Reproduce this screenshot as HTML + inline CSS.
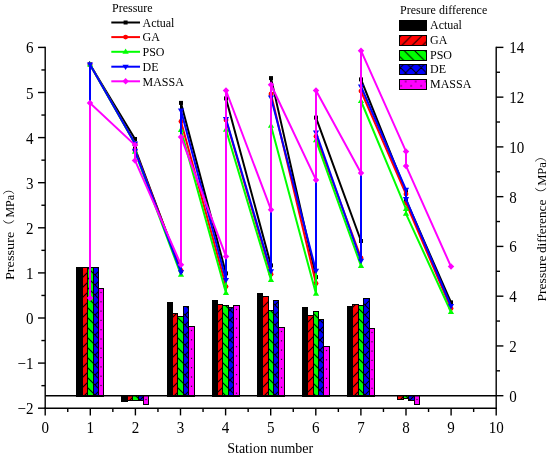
<!DOCTYPE html>
<html><head><meta charset="utf-8"><title>Pressure chart</title>
<style>html,body{margin:0;padding:0;background:#fff;}body{width:550px;height:458px;overflow:hidden;}svg{display:block;}text{font-family:"Liberation Serif", "Times New Roman", serif;fill:#000;}.cjk{font-family:"Liberation Serif", "Noto Serif CJK SC", serif;}</style></head><body>
<svg width="550" height="458" viewBox="0 0 550 458">
<defs>
<pattern id="bGA" patternUnits="userSpaceOnUse" width="10" height="10"><rect x="-1" y="-1" width="12" height="12" fill="#ff0000"/><path d="M0,10 L10,0 M-2.5,2.5 L2.5,-2.5 M7.5,12.5 L12.5,7.5" stroke="#000" stroke-width="1.1" fill="none"/></pattern>
<pattern id="bPSO" patternUnits="userSpaceOnUse" width="10" height="10"><rect x="-1" y="-1" width="12" height="12" fill="#00ff00"/><path d="M0,0 L10,10 M-2.5,7.5 L2.5,12.5 M7.5,-2.5 L12.5,2.5" stroke="#000" stroke-width="1.1" fill="none"/></pattern>
<pattern id="bDE" patternUnits="userSpaceOnUse" width="10" height="10"><rect x="-1" y="-1" width="12" height="12" fill="#0000ff"/><path d="M0,10 L10,0 M-2.5,2.5 L2.5,-2.5 M7.5,12.5 L12.5,7.5 M0,0 L10,10 M-2.5,7.5 L2.5,12.5 M7.5,-2.5 L12.5,2.5" stroke="#000" stroke-width="1.1" fill="none"/></pattern>
<pattern id="lGA" patternUnits="userSpaceOnUse" width="10.4" height="10.4"><rect x="-1" y="-1" width="12.4" height="12.4" fill="#ff0000"/><path d="M0,10.4 L10.4,0 M-2.6,2.6 L2.6,-2.6 M7.8,13 L13,7.8" stroke="#000" stroke-width="1.0" fill="none"/></pattern>
<pattern id="lPSO" patternUnits="userSpaceOnUse" width="10.4" height="10.4"><rect x="-1" y="-1" width="12.4" height="12.4" fill="#00ff00"/><path d="M0,0 L10.4,10.4 M-2.6,7.8 L2.6,13 M7.8,-2.6 L13,2.6" stroke="#000" stroke-width="1.0" fill="none"/></pattern>
<pattern id="lDE" patternUnits="userSpaceOnUse" width="10.4" height="10.4"><rect x="-1" y="-1" width="12.4" height="12.4" fill="#0000ff"/><path d="M0,10.4 L10.4,0 M-2.6,2.6 L2.6,-2.6 M7.8,13 L13,7.8 M0,0 L10.4,10.4 M-2.6,7.8 L2.6,13 M7.8,-2.6 L13,2.6" stroke="#000" stroke-width="1.0" fill="none"/></pattern>
<pattern id="lMA" patternUnits="userSpaceOnUse" x="400.5" y="80.5" width="10" height="9"><rect x="-1" y="-1" width="12" height="11" fill="#ff00ff"/><rect x="4.6" y="0.4" width="1.2" height="1.2" fill="#111"/><rect x="0" y="4.8" width="1.2" height="1.2" fill="#111"/></pattern>
</defs>
<rect x="76.5" y="267.5" width="6" height="129" fill="#000000" stroke="#000" stroke-width="1"/>
<rect x="82.5" y="267.5" width="5" height="129" fill="url(#bGA)" stroke="#000" stroke-width="1"/>
<rect x="87.5" y="267.5" width="6" height="129" fill="url(#bPSO)" stroke="#000" stroke-width="1"/>
<rect x="93.5" y="267.5" width="5" height="129" fill="url(#bDE)" stroke="#000" stroke-width="1"/>
<rect x="98.5" y="288.5" width="5" height="108" fill="#ff00ff" stroke="#000" stroke-width="1"/>
<rect x="100.4" y="291.9" width="1.2" height="1.2" fill="#222"/>
<rect x="100.4" y="301.2" width="1.2" height="1.2" fill="#222"/>
<rect x="100.4" y="310.5" width="1.2" height="1.2" fill="#222"/>
<rect x="100.4" y="319.8" width="1.2" height="1.2" fill="#222"/>
<rect x="100.4" y="329.1" width="1.2" height="1.2" fill="#222"/>
<rect x="100.4" y="338.4" width="1.2" height="1.2" fill="#222"/>
<rect x="100.4" y="347.7" width="1.2" height="1.2" fill="#222"/>
<rect x="100.4" y="357" width="1.2" height="1.2" fill="#222"/>
<rect x="100.4" y="366.3" width="1.2" height="1.2" fill="#222"/>
<rect x="100.4" y="375.6" width="1.2" height="1.2" fill="#222"/>
<rect x="100.4" y="384.9" width="1.2" height="1.2" fill="#222"/>
<rect x="121.5" y="395.5" width="6" height="6" fill="#000000" stroke="#000" stroke-width="1"/>
<rect x="127.5" y="395.5" width="5" height="5" fill="url(#bGA)" stroke="#000" stroke-width="1"/>
<rect x="132.5" y="395.5" width="6" height="5" fill="url(#bPSO)" stroke="#000" stroke-width="1"/>
<rect x="138.5" y="395.5" width="5" height="5" fill="url(#bDE)" stroke="#000" stroke-width="1"/>
<rect x="143.5" y="395.5" width="5" height="9" fill="#ff00ff" stroke="#000" stroke-width="1"/>
<rect x="145.4" y="398.9" width="1.2" height="1.2" fill="#222"/>
<rect x="167.5" y="302.5" width="5" height="94" fill="#000000" stroke="#000" stroke-width="1"/>
<rect x="172.5" y="313.5" width="5" height="83" fill="url(#bGA)" stroke="#000" stroke-width="1"/>
<rect x="177.5" y="316.5" width="6" height="80" fill="url(#bPSO)" stroke="#000" stroke-width="1"/>
<rect x="183.5" y="306.5" width="5" height="90" fill="url(#bDE)" stroke="#000" stroke-width="1"/>
<rect x="188.5" y="326.5" width="6" height="70" fill="#ff00ff" stroke="#000" stroke-width="1"/>
<rect x="190.9" y="329.9" width="1.2" height="1.2" fill="#222"/>
<rect x="190.9" y="339.2" width="1.2" height="1.2" fill="#222"/>
<rect x="190.9" y="348.5" width="1.2" height="1.2" fill="#222"/>
<rect x="190.9" y="357.8" width="1.2" height="1.2" fill="#222"/>
<rect x="190.9" y="367.1" width="1.2" height="1.2" fill="#222"/>
<rect x="190.9" y="376.4" width="1.2" height="1.2" fill="#222"/>
<rect x="190.9" y="385.7" width="1.2" height="1.2" fill="#222"/>
<rect x="212.5" y="300.5" width="5" height="96" fill="#000000" stroke="#000" stroke-width="1"/>
<rect x="217.5" y="304.5" width="5" height="92" fill="url(#bGA)" stroke="#000" stroke-width="1"/>
<rect x="222.5" y="305.5" width="6" height="91" fill="url(#bPSO)" stroke="#000" stroke-width="1"/>
<rect x="228.5" y="307.5" width="5" height="89" fill="url(#bDE)" stroke="#000" stroke-width="1"/>
<rect x="233.5" y="305.5" width="6" height="91" fill="#ff00ff" stroke="#000" stroke-width="1"/>
<rect x="235.9" y="308.9" width="1.2" height="1.2" fill="#222"/>
<rect x="235.9" y="318.2" width="1.2" height="1.2" fill="#222"/>
<rect x="235.9" y="327.5" width="1.2" height="1.2" fill="#222"/>
<rect x="235.9" y="336.8" width="1.2" height="1.2" fill="#222"/>
<rect x="235.9" y="346.1" width="1.2" height="1.2" fill="#222"/>
<rect x="235.9" y="355.4" width="1.2" height="1.2" fill="#222"/>
<rect x="235.9" y="364.7" width="1.2" height="1.2" fill="#222"/>
<rect x="235.9" y="374" width="1.2" height="1.2" fill="#222"/>
<rect x="235.9" y="383.3" width="1.2" height="1.2" fill="#222"/>
<rect x="235.9" y="392.6" width="1.2" height="1.2" fill="#222"/>
<rect x="257.5" y="293.5" width="5" height="103" fill="#000000" stroke="#000" stroke-width="1"/>
<rect x="262.5" y="296.5" width="6" height="100" fill="url(#bGA)" stroke="#000" stroke-width="1"/>
<rect x="268.5" y="310.5" width="5" height="86" fill="url(#bPSO)" stroke="#000" stroke-width="1"/>
<rect x="273.5" y="300.5" width="5" height="96" fill="url(#bDE)" stroke="#000" stroke-width="1"/>
<rect x="278.5" y="327.5" width="6" height="69" fill="#ff00ff" stroke="#000" stroke-width="1"/>
<rect x="280.9" y="330.9" width="1.2" height="1.2" fill="#222"/>
<rect x="280.9" y="340.2" width="1.2" height="1.2" fill="#222"/>
<rect x="280.9" y="349.5" width="1.2" height="1.2" fill="#222"/>
<rect x="280.9" y="358.8" width="1.2" height="1.2" fill="#222"/>
<rect x="280.9" y="368.1" width="1.2" height="1.2" fill="#222"/>
<rect x="280.9" y="377.4" width="1.2" height="1.2" fill="#222"/>
<rect x="280.9" y="386.7" width="1.2" height="1.2" fill="#222"/>
<rect x="302.5" y="307.5" width="5" height="89" fill="#000000" stroke="#000" stroke-width="1"/>
<rect x="307.5" y="315.5" width="6" height="81" fill="url(#bGA)" stroke="#000" stroke-width="1"/>
<rect x="313.5" y="311.5" width="5" height="85" fill="url(#bPSO)" stroke="#000" stroke-width="1"/>
<rect x="318.5" y="319.5" width="5" height="77" fill="url(#bDE)" stroke="#000" stroke-width="1"/>
<rect x="323.5" y="346.5" width="6" height="50" fill="#ff00ff" stroke="#000" stroke-width="1"/>
<rect x="325.9" y="349.9" width="1.2" height="1.2" fill="#222"/>
<rect x="325.9" y="359.2" width="1.2" height="1.2" fill="#222"/>
<rect x="325.9" y="368.5" width="1.2" height="1.2" fill="#222"/>
<rect x="325.9" y="377.8" width="1.2" height="1.2" fill="#222"/>
<rect x="325.9" y="387.1" width="1.2" height="1.2" fill="#222"/>
<rect x="347.5" y="306.5" width="5" height="90" fill="#000000" stroke="#000" stroke-width="1"/>
<rect x="352.5" y="304.5" width="6" height="92" fill="url(#bGA)" stroke="#000" stroke-width="1"/>
<rect x="358.5" y="305.5" width="5" height="91" fill="url(#bPSO)" stroke="#000" stroke-width="1"/>
<rect x="363.5" y="298.5" width="6" height="98" fill="url(#bDE)" stroke="#000" stroke-width="1"/>
<rect x="369.5" y="328.5" width="5" height="68" fill="#ff00ff" stroke="#000" stroke-width="1"/>
<rect x="371.4" y="331.9" width="1.2" height="1.2" fill="#222"/>
<rect x="371.4" y="341.2" width="1.2" height="1.2" fill="#222"/>
<rect x="371.4" y="350.5" width="1.2" height="1.2" fill="#222"/>
<rect x="371.4" y="359.8" width="1.2" height="1.2" fill="#222"/>
<rect x="371.4" y="369.1" width="1.2" height="1.2" fill="#222"/>
<rect x="371.4" y="378.4" width="1.2" height="1.2" fill="#222"/>
<rect x="371.4" y="387.7" width="1.2" height="1.2" fill="#222"/>
<rect x="397.5" y="395.5" width="6" height="4" fill="url(#bGA)" stroke="#000" stroke-width="1"/>
<rect x="403.5" y="395.5" width="5" height="3" fill="url(#bPSO)" stroke="#000" stroke-width="1"/>
<rect x="408.5" y="395.5" width="6" height="5" fill="url(#bDE)" stroke="#000" stroke-width="1"/>
<rect x="414.5" y="395.5" width="5" height="9" fill="#ff00ff" stroke="#000" stroke-width="1"/>
<rect x="416.4" y="398.9" width="1.2" height="1.2" fill="#222"/>
<g stroke="#000" stroke-width="1.4" fill="none">
<line x1="45.2" y1="395.7" x2="496.2" y2="395.7"/>
<line x1="45.2" y1="46.8" x2="45.2" y2="409"/>
<line x1="496.2" y1="46.8" x2="496.2" y2="409"/>
<line x1="44.4" y1="408.2" x2="497" y2="408.2"/>
<line x1="38" y1="408.2" x2="45.2" y2="408.2"/>
<line x1="41.4" y1="385.65" x2="45.2" y2="385.65"/>
<line x1="38" y1="363.1" x2="45.2" y2="363.1"/>
<line x1="41.4" y1="340.55" x2="45.2" y2="340.55"/>
<line x1="38" y1="318" x2="45.2" y2="318"/>
<line x1="41.4" y1="295.45" x2="45.2" y2="295.45"/>
<line x1="38" y1="272.9" x2="45.2" y2="272.9"/>
<line x1="41.4" y1="250.35" x2="45.2" y2="250.35"/>
<line x1="38" y1="227.8" x2="45.2" y2="227.8"/>
<line x1="41.4" y1="205.25" x2="45.2" y2="205.25"/>
<line x1="38" y1="182.7" x2="45.2" y2="182.7"/>
<line x1="41.4" y1="160.15" x2="45.2" y2="160.15"/>
<line x1="38" y1="137.6" x2="45.2" y2="137.6"/>
<line x1="41.4" y1="115.05" x2="45.2" y2="115.05"/>
<line x1="38" y1="92.5" x2="45.2" y2="92.5"/>
<line x1="41.4" y1="69.95" x2="45.2" y2="69.95"/>
<line x1="38" y1="47.4" x2="45.2" y2="47.4"/>
<line x1="496.2" y1="395.7" x2="503.4" y2="395.7"/>
<line x1="496.2" y1="370.82" x2="500" y2="370.82"/>
<line x1="496.2" y1="345.94" x2="503.4" y2="345.94"/>
<line x1="496.2" y1="321.06" x2="500" y2="321.06"/>
<line x1="496.2" y1="296.18" x2="503.4" y2="296.18"/>
<line x1="496.2" y1="271.3" x2="500" y2="271.3"/>
<line x1="496.2" y1="246.42" x2="503.4" y2="246.42"/>
<line x1="496.2" y1="221.54" x2="500" y2="221.54"/>
<line x1="496.2" y1="196.66" x2="503.4" y2="196.66"/>
<line x1="496.2" y1="171.78" x2="500" y2="171.78"/>
<line x1="496.2" y1="146.9" x2="503.4" y2="146.9"/>
<line x1="496.2" y1="122.02" x2="500" y2="122.02"/>
<line x1="496.2" y1="97.14" x2="503.4" y2="97.14"/>
<line x1="496.2" y1="72.26" x2="500" y2="72.26"/>
<line x1="496.2" y1="47.38" x2="503.4" y2="47.38"/>
<line x1="45.2" y1="408.2" x2="45.2" y2="415.4"/>
<line x1="67.75" y1="408.2" x2="67.75" y2="412"/>
<line x1="90.3" y1="408.2" x2="90.3" y2="415.4"/>
<line x1="112.85" y1="408.2" x2="112.85" y2="412"/>
<line x1="135.4" y1="408.2" x2="135.4" y2="415.4"/>
<line x1="157.95" y1="408.2" x2="157.95" y2="412"/>
<line x1="180.5" y1="408.2" x2="180.5" y2="415.4"/>
<line x1="203.05" y1="408.2" x2="203.05" y2="412"/>
<line x1="225.6" y1="408.2" x2="225.6" y2="415.4"/>
<line x1="248.15" y1="408.2" x2="248.15" y2="412"/>
<line x1="270.7" y1="408.2" x2="270.7" y2="415.4"/>
<line x1="293.25" y1="408.2" x2="293.25" y2="412"/>
<line x1="315.8" y1="408.2" x2="315.8" y2="415.4"/>
<line x1="338.35" y1="408.2" x2="338.35" y2="412"/>
<line x1="360.9" y1="408.2" x2="360.9" y2="415.4"/>
<line x1="383.45" y1="408.2" x2="383.45" y2="412"/>
<line x1="406" y1="408.2" x2="406" y2="415.4"/>
<line x1="428.55" y1="408.2" x2="428.55" y2="412"/>
<line x1="451.1" y1="408.2" x2="451.1" y2="415.4"/>
<line x1="473.65" y1="408.2" x2="473.65" y2="412"/>
<line x1="496.2" y1="408.2" x2="496.2" y2="415.4"/>
</g>
<polyline points="90,298 90,64.5 135,139 135,148.4 181,271 181,102.9 226,273.4 226,98.4 271,265.4 271,78.1 316,277.1 316,117.6 361,241 361,79.4 406,192 406,200 451,302.4" fill="none" stroke="#000000" stroke-width="2.0" stroke-linejoin="miter"/>
<rect x="88" y="62.5" width="4" height="4" fill="#000000"/>
<rect x="133" y="137" width="4" height="4" fill="#000000"/>
<rect x="133" y="146.4" width="4" height="4" fill="#000000"/>
<rect x="179" y="269" width="4" height="4" fill="#000000"/>
<rect x="179" y="100.9" width="4" height="4" fill="#000000"/>
<rect x="224" y="271.4" width="4" height="4" fill="#000000"/>
<rect x="224" y="96.4" width="4" height="4" fill="#000000"/>
<rect x="269" y="263.4" width="4" height="4" fill="#000000"/>
<rect x="269" y="76.1" width="4" height="4" fill="#000000"/>
<rect x="314" y="275.1" width="4" height="4" fill="#000000"/>
<rect x="314" y="115.6" width="4" height="4" fill="#000000"/>
<rect x="359" y="239" width="4" height="4" fill="#000000"/>
<rect x="359" y="77.4" width="4" height="4" fill="#000000"/>
<rect x="404" y="190" width="4" height="4" fill="#000000"/>
<rect x="404" y="198" width="4" height="4" fill="#000000"/>
<rect x="449" y="300.4" width="4" height="4" fill="#000000"/>
<polyline points="90,298 90,64.5 135,143.5 135,150.5 181,270.5 181,121.5 226,286.6 226,120 271,274.2 271,94 316,283.5 316,136.4 361,258 361,91.1 406,194 406,203 451,308.4" fill="none" stroke="#ff0000" stroke-width="2.0" stroke-linejoin="miter"/>
<circle cx="90" cy="64.5" r="2.45" fill="#ff0000"/>
<circle cx="135" cy="143.5" r="2.45" fill="#ff0000"/>
<circle cx="135" cy="150.5" r="2.45" fill="#ff0000"/>
<circle cx="181" cy="270.5" r="2.45" fill="#ff0000"/>
<circle cx="181" cy="121.5" r="2.45" fill="#ff0000"/>
<circle cx="226" cy="286.6" r="2.45" fill="#ff0000"/>
<circle cx="226" cy="120" r="2.45" fill="#ff0000"/>
<circle cx="271" cy="274.2" r="2.45" fill="#ff0000"/>
<circle cx="271" cy="94" r="2.45" fill="#ff0000"/>
<circle cx="316" cy="283.5" r="2.45" fill="#ff0000"/>
<circle cx="316" cy="136.4" r="2.45" fill="#ff0000"/>
<circle cx="361" cy="258" r="2.45" fill="#ff0000"/>
<circle cx="361" cy="91.1" r="2.45" fill="#ff0000"/>
<circle cx="406" cy="194" r="2.45" fill="#ff0000"/>
<circle cx="406" cy="203" r="2.45" fill="#ff0000"/>
<circle cx="451" cy="308.4" r="2.45" fill="#ff0000"/>
<polyline points="90,298 90,64.5 135,143.8 135,151.8 181,274.8 181,129.9 226,293.1 226,129.8 271,280 271,125.7 316,293.8 316,140.3 361,265.9 361,101 406,208.9 406,213.8 451,312" fill="none" stroke="#00ff00" stroke-width="2.0" stroke-linejoin="miter"/>
<polygon points="90,61.2 93.14,66.48 86.86,66.48" fill="#00ff00"/>
<polygon points="135,140.5 138.13,145.78 131.87,145.78" fill="#00ff00"/>
<polygon points="135,148.5 138.13,153.78 131.87,153.78" fill="#00ff00"/>
<polygon points="181,271.5 184.13,276.78 177.87,276.78" fill="#00ff00"/>
<polygon points="181,126.6 184.13,131.88 177.87,131.88" fill="#00ff00"/>
<polygon points="226,289.8 229.13,295.08 222.87,295.08" fill="#00ff00"/>
<polygon points="226,126.5 229.13,131.78 222.87,131.78" fill="#00ff00"/>
<polygon points="271,276.7 274.13,281.98 267.87,281.98" fill="#00ff00"/>
<polygon points="271,122.4 274.13,127.68 267.87,127.68" fill="#00ff00"/>
<polygon points="316,290.5 319.13,295.78 312.87,295.78" fill="#00ff00"/>
<polygon points="316,137 319.13,142.28 312.87,142.28" fill="#00ff00"/>
<polygon points="361,262.6 364.13,267.88 357.87,267.88" fill="#00ff00"/>
<polygon points="361,97.7 364.13,102.98 357.87,102.98" fill="#00ff00"/>
<polygon points="406,205.6 409.13,210.88 402.87,210.88" fill="#00ff00"/>
<polygon points="406,210.5 409.13,215.78 402.87,215.78" fill="#00ff00"/>
<polygon points="451,308.7 454.13,313.98 447.87,313.98" fill="#00ff00"/>
<polyline points="90,298 90,64.5 135,143.5 135,150.8 181,272.2 181,110.4 226,280 226,119 271,271.3 271,97.5 316,270.7 316,132.5 361,260.7 361,86.5 406,189.8 406,199.1 451,306" fill="none" stroke="#0000ff" stroke-width="2.0" stroke-linejoin="miter"/>
<polygon points="90,67.8 93.14,62.52 86.86,62.52" fill="#0000ff"/>
<polygon points="135,146.8 138.13,141.52 131.87,141.52" fill="#0000ff"/>
<polygon points="135,154.1 138.13,148.82 131.87,148.82" fill="#0000ff"/>
<polygon points="181,275.5 184.13,270.22 177.87,270.22" fill="#0000ff"/>
<polygon points="181,113.7 184.13,108.42 177.87,108.42" fill="#0000ff"/>
<polygon points="226,283.3 229.13,278.02 222.87,278.02" fill="#0000ff"/>
<polygon points="226,122.3 229.13,117.02 222.87,117.02" fill="#0000ff"/>
<polygon points="271,274.6 274.13,269.32 267.87,269.32" fill="#0000ff"/>
<polygon points="271,100.8 274.13,95.52 267.87,95.52" fill="#0000ff"/>
<polygon points="316,274 319.13,268.72 312.87,268.72" fill="#0000ff"/>
<polygon points="316,135.8 319.13,130.52 312.87,130.52" fill="#0000ff"/>
<polygon points="361,264 364.13,258.72 357.87,258.72" fill="#0000ff"/>
<polygon points="361,89.8 364.13,84.52 357.87,84.52" fill="#0000ff"/>
<polygon points="406,193.1 409.13,187.82 402.87,187.82" fill="#0000ff"/>
<polygon points="406,202.4 409.13,197.12 402.87,197.12" fill="#0000ff"/>
<polygon points="451,309.3 454.13,304.02 447.87,304.02" fill="#0000ff"/>
<polyline points="90,298 90,103 135,145.1 135,160.4 181,264.8 181,136.9 226,256.4 226,90.5 271,209.7 271,84.7 316,179.9 316,90.5 361,173.1 361,50.7 406,151.4 406,165.9 451,266.6" fill="none" stroke="#ff00ff" stroke-width="2.0" stroke-linejoin="miter"/>
<polygon points="90,294.75 93.25,298 90,301.25 86.75,298" fill="#ff00ff"/>
<polygon points="90,99.75 93.25,103 90,106.25 86.75,103" fill="#ff00ff"/>
<polygon points="135,141.85 138.25,145.1 135,148.35 131.75,145.1" fill="#ff00ff"/>
<polygon points="135,157.15 138.25,160.4 135,163.65 131.75,160.4" fill="#ff00ff"/>
<polygon points="181,261.55 184.25,264.8 181,268.05 177.75,264.8" fill="#ff00ff"/>
<polygon points="181,133.65 184.25,136.9 181,140.15 177.75,136.9" fill="#ff00ff"/>
<polygon points="226,253.15 229.25,256.4 226,259.65 222.75,256.4" fill="#ff00ff"/>
<polygon points="226,87.25 229.25,90.5 226,93.75 222.75,90.5" fill="#ff00ff"/>
<polygon points="271,206.45 274.25,209.7 271,212.95 267.75,209.7" fill="#ff00ff"/>
<polygon points="271,81.45 274.25,84.7 271,87.95 267.75,84.7" fill="#ff00ff"/>
<polygon points="316,176.65 319.25,179.9 316,183.15 312.75,179.9" fill="#ff00ff"/>
<polygon points="316,87.25 319.25,90.5 316,93.75 312.75,90.5" fill="#ff00ff"/>
<polygon points="361,169.85 364.25,173.1 361,176.35 357.75,173.1" fill="#ff00ff"/>
<polygon points="361,47.45 364.25,50.7 361,53.95 357.75,50.7" fill="#ff00ff"/>
<polygon points="406,148.15 409.25,151.4 406,154.65 402.75,151.4" fill="#ff00ff"/>
<polygon points="406,162.65 409.25,165.9 406,169.15 402.75,165.9" fill="#ff00ff"/>
<polygon points="451,263.35 454.25,266.6 451,269.85 447.75,266.6" fill="#ff00ff"/>
<g font-size="15.5">
<text transform="translate(33.6,414.2) scale(0.97,1.08)" text-anchor="end">−2</text>
<text transform="translate(33.6,369.1) scale(0.97,1.08)" text-anchor="end">−1</text>
<text transform="translate(33.6,324) scale(0.97,1.08)" text-anchor="end">0</text>
<text transform="translate(33.6,278.9) scale(0.97,1.08)" text-anchor="end">1</text>
<text transform="translate(33.6,233.8) scale(0.97,1.08)" text-anchor="end">2</text>
<text transform="translate(33.6,188.7) scale(0.97,1.08)" text-anchor="end">3</text>
<text transform="translate(33.6,143.6) scale(0.97,1.08)" text-anchor="end">4</text>
<text transform="translate(33.6,98.5) scale(0.97,1.08)" text-anchor="end">5</text>
<text transform="translate(33.6,53.4) scale(0.97,1.08)" text-anchor="end">6</text>
<text transform="translate(509.2,401.7) scale(0.97,1.08)">0</text>
<text transform="translate(509.2,351.94) scale(0.97,1.08)">2</text>
<text transform="translate(509.2,302.18) scale(0.97,1.08)">4</text>
<text transform="translate(509.2,252.42) scale(0.97,1.08)">6</text>
<text transform="translate(509.2,202.66) scale(0.97,1.08)">8</text>
<text transform="translate(509.2,152.9) scale(0.97,1.08)">10</text>
<text transform="translate(509.2,103.14) scale(0.97,1.08)">12</text>
<text transform="translate(509.2,53.38) scale(0.97,1.08)">14</text>
<text transform="translate(45.2,433.2) scale(0.97,1.08)" text-anchor="middle">0</text>
<text transform="translate(90.3,433.2) scale(0.97,1.08)" text-anchor="middle">1</text>
<text transform="translate(135.4,433.2) scale(0.97,1.08)" text-anchor="middle">2</text>
<text transform="translate(180.5,433.2) scale(0.97,1.08)" text-anchor="middle">3</text>
<text transform="translate(225.6,433.2) scale(0.97,1.08)" text-anchor="middle">4</text>
<text transform="translate(270.7,433.2) scale(0.97,1.08)" text-anchor="middle">5</text>
<text transform="translate(315.8,433.2) scale(0.97,1.08)" text-anchor="middle">6</text>
<text transform="translate(360.9,433.2) scale(0.97,1.08)" text-anchor="middle">7</text>
<text transform="translate(406,433.2) scale(0.97,1.08)" text-anchor="middle">8</text>
<text transform="translate(451.1,433.2) scale(0.97,1.08)" text-anchor="middle">9</text>
<text transform="translate(496.2,433.2) scale(0.97,1.08)" text-anchor="middle">10</text>
</g>
<text x="270.2" y="452.6" font-size="14" text-anchor="middle">Station number</text>
<text transform="translate(14.4,280.1) rotate(-90)" font-size="13" textLength="48.4" lengthAdjust="spacingAndGlyphs">Pressure</text>
<text class="cjk" transform="translate(14.4,231.2) rotate(-90)" font-size="12">（</text>
<text transform="translate(14.4,217.6) rotate(-90)" font-size="13" textLength="22.6" lengthAdjust="spacingAndGlyphs">MPa</text>
<text class="cjk" transform="translate(14.4,195) rotate(-90)" font-size="12">）</text>
<text transform="translate(546.4,301.6) rotate(-90)" font-size="13" textLength="46.2" lengthAdjust="spacingAndGlyphs">Pressure</text>
<text transform="translate(546.4,253) rotate(-90)" font-size="13" textLength="53.3" lengthAdjust="spacingAndGlyphs">difference</text>
<text class="cjk" transform="translate(546.4,199) rotate(-90)" font-size="12">（</text>
<text transform="translate(546.4,185.7) rotate(-90)" font-size="13" textLength="23.5" lengthAdjust="spacingAndGlyphs">MPa</text>
<text class="cjk" transform="translate(546.4,162.5) rotate(-90)" font-size="12">）</text>
<text transform="translate(112,12) scale(1,1.07)" font-size="12">Pressure</text>
<line x1="111.3" y1="22.5" x2="140" y2="22.5" stroke="#000000" stroke-width="2.0"/>
<rect x="123.6" y="20.5" width="4" height="4" fill="#000000"/>
<text transform="translate(142.5,26.7) scale(1,1.07)" font-size="12">Actual</text>
<line x1="111.3" y1="37.1" x2="140" y2="37.1" stroke="#ff0000" stroke-width="2.0"/>
<circle cx="125.6" cy="37.1" r="2.45" fill="#ff0000"/>
<text transform="translate(142.5,41.3) scale(1,1.07)" font-size="12">GA</text>
<line x1="111.3" y1="51.8" x2="140" y2="51.8" stroke="#00ff00" stroke-width="2.0"/>
<polygon points="125.6,48.5 128.73,53.78 122.46,53.78" fill="#00ff00"/>
<text transform="translate(142.5,56) scale(1,1.07)" font-size="12">PSO</text>
<line x1="111.3" y1="66.7" x2="140" y2="66.7" stroke="#0000ff" stroke-width="2.0"/>
<polygon points="125.6,70 128.73,64.72 122.46,64.72" fill="#0000ff"/>
<text transform="translate(142.5,70.9) scale(1,1.07)" font-size="12">DE</text>
<line x1="111.3" y1="81.3" x2="140" y2="81.3" stroke="#ff00ff" stroke-width="2.0"/>
<polygon points="125.6,78.05 128.85,81.3 125.6,84.55 122.35,81.3" fill="#ff00ff"/>
<text transform="translate(142.5,85.5) scale(1,1.07)" font-size="12">MASSA</text>
<text transform="translate(400,14.2) scale(1,1.07)" font-size="12">Presure difference</text>
<rect x="399.5" y="20.5" width="27" height="10" fill="#000000" stroke="#000" stroke-width="1"/>
<text transform="translate(430,29.3) scale(1,1.07)" font-size="12">Actual</text>
<rect x="399.5" y="35.5" width="27" height="10" fill="url(#lGA)" stroke="#000" stroke-width="1"/>
<text transform="translate(430,44.3) scale(1,1.07)" font-size="12">GA</text>
<rect x="399.5" y="50.5" width="27" height="10" fill="url(#lPSO)" stroke="#000" stroke-width="1"/>
<text transform="translate(430,59.3) scale(1,1.07)" font-size="12">PSO</text>
<rect x="399.5" y="64.5" width="27" height="10" fill="url(#lDE)" stroke="#000" stroke-width="1"/>
<text transform="translate(430,73.3) scale(1,1.07)" font-size="12">DE</text>
<rect x="399.5" y="79.5" width="27" height="10" fill="url(#lMA)" stroke="#000" stroke-width="1"/>
<text transform="translate(430,88.3) scale(1,1.07)" font-size="12">MASSA</text>
</svg></body></html>
